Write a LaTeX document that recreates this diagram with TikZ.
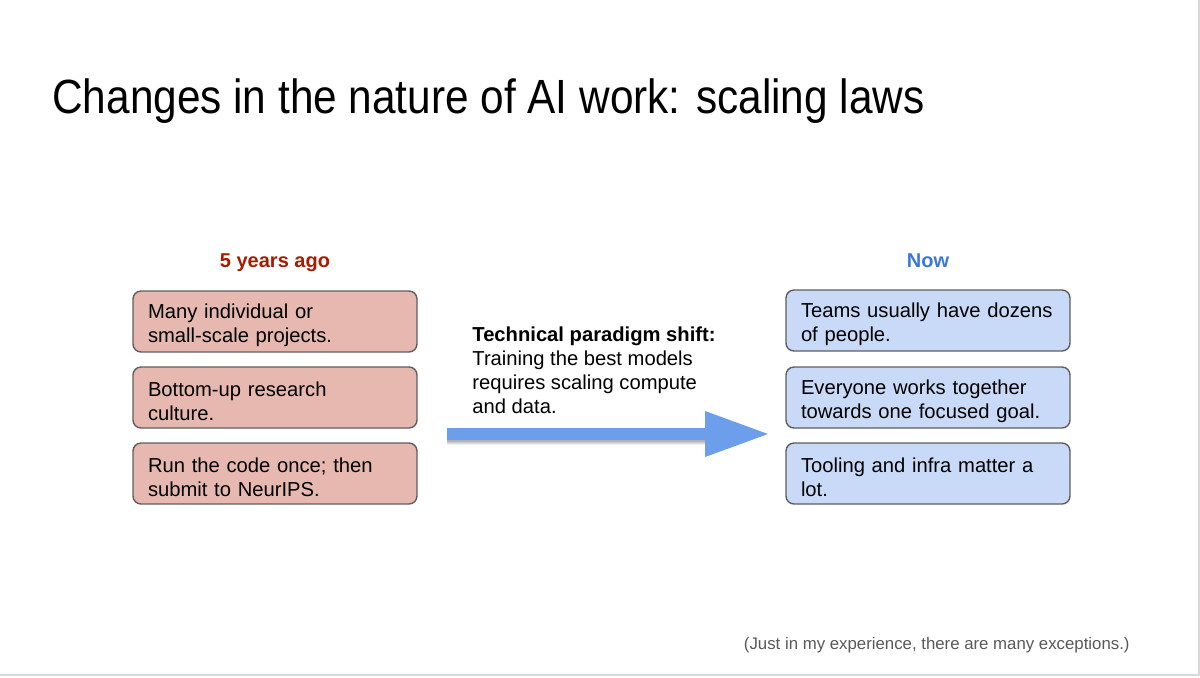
\documentclass[tikz,border=0pt]{standalone}
\usepackage{fontspec}
\setmainfont{Liberation Sans}
\newfontfamily\titlefont[FakeStretch=0.882]{Liberation Sans}
\definecolor{oldfill}{HTML}{E6B8AF}
\definecolor{newfill}{HTML}{C9DAF8}
\definecolor{boxline}{HTML}{5F5F5F}
\definecolor{oldhead}{HTML}{A61C00}
\definecolor{newhead}{HTML}{3C78D8}
\definecolor{arrowblue}{HTML}{6D9EEB}
\definecolor{notegray}{HTML}{595959}
\definecolor{framegray}{HTML}{D9D9D9}
\begin{document}
\begin{tikzpicture}[x=0.5pt,y=-0.5pt,
  itembox/.style={draw=boxline, line width=0.7pt, rounded corners=4pt,
    minimum width=142pt, minimum height=30.5pt, text width=127pt,
    inner xsep=7.5pt, inner ysep=0pt, align=left,
    font=\fontsize{10.1}{12}\selectfont,
    execute at begin node={\rule{0pt}{11.5pt}}},
  oldbox/.style={itembox, fill=oldfill},
  newbox/.style={itembox, fill=newfill},
  colhead/.style={font=\bfseries\fontsize{10}{12}\selectfont, inner sep=0pt, anchor=base}
]
\useasboundingbox (0,0) rectangle (1200,677);
\fill[white] (0,0) rectangle (1200,677);
\draw[framegray, line width=0.6pt] (0,675) -- (1199,675) -- (1199,0);

\node[anchor=base west, inner sep=0pt] (title) at (52,113)
  {\titlefont\fontsize{24}{28}\selectfont Changes in the nature of AI work: scaling laws};

\node[colhead, text=oldhead] (oldlabel) at (275,267) {5 years ago};
\node[colhead, text=newhead] (newlabel) at (928,267) {Now};

\node[oldbox] (o1) at (275,321.5) {Many individual or\\small-scale projects.};
\node[oldbox] (o2) at (275,397.5) {Bottom-up research\\culture.};
\node[oldbox] (o3) at (275,473.5) {Run the code once; then\\submit to NeurIPS.};

\node[newbox] (n1) at (928,320.5) {Teams usually have dozens\\of people.};
\node[newbox] (n2) at (928,397.5) {Everyone works together\\towards one focused goal.};
\node[newbox] (n3) at (928,473.5) {Tooling and infra matter a\\lot.};

\node[anchor=north west, inner sep=0pt, align=left, font=\fontsize{10.1}{12}\selectfont] (shift) at (472,326.5)
  {\textbf{Technical paradigm shift:}\\Training the best models\\requires scaling compute\\and data.};

\coordinate (astart) at (447,434);
\coordinate (atip) at (768,434);
% shadow
\foreach \o/\op in {6/0.06,5/0.08,4/0.10,3/0.08}{
  \fill[black, opacity=\op]
    ([shift={(0,\o)}]astart) ++(0,-5) -- ++(262,0) -- ++(0,10) -- ++(-262,0) -- cycle;
}
% arrow
\fill[arrowblue] ([shift={(0,-6)}]astart) -- ([shift={(258,-6)}]astart)
  -- ([shift={(258,-23)}]astart) -- (atip) -- ([shift={(258,23)}]astart)
  -- ([shift={(258,6)}]astart) -- ([shift={(0,6)}]astart) -- cycle;

\node[anchor=base east, inner sep=0pt, text=notegray, font=\fontsize{8.4}{10}\selectfont] (note) at (1130,649)
  {(Just in my experience, there are many exceptions.)};
\end{tikzpicture}
\end{document}
